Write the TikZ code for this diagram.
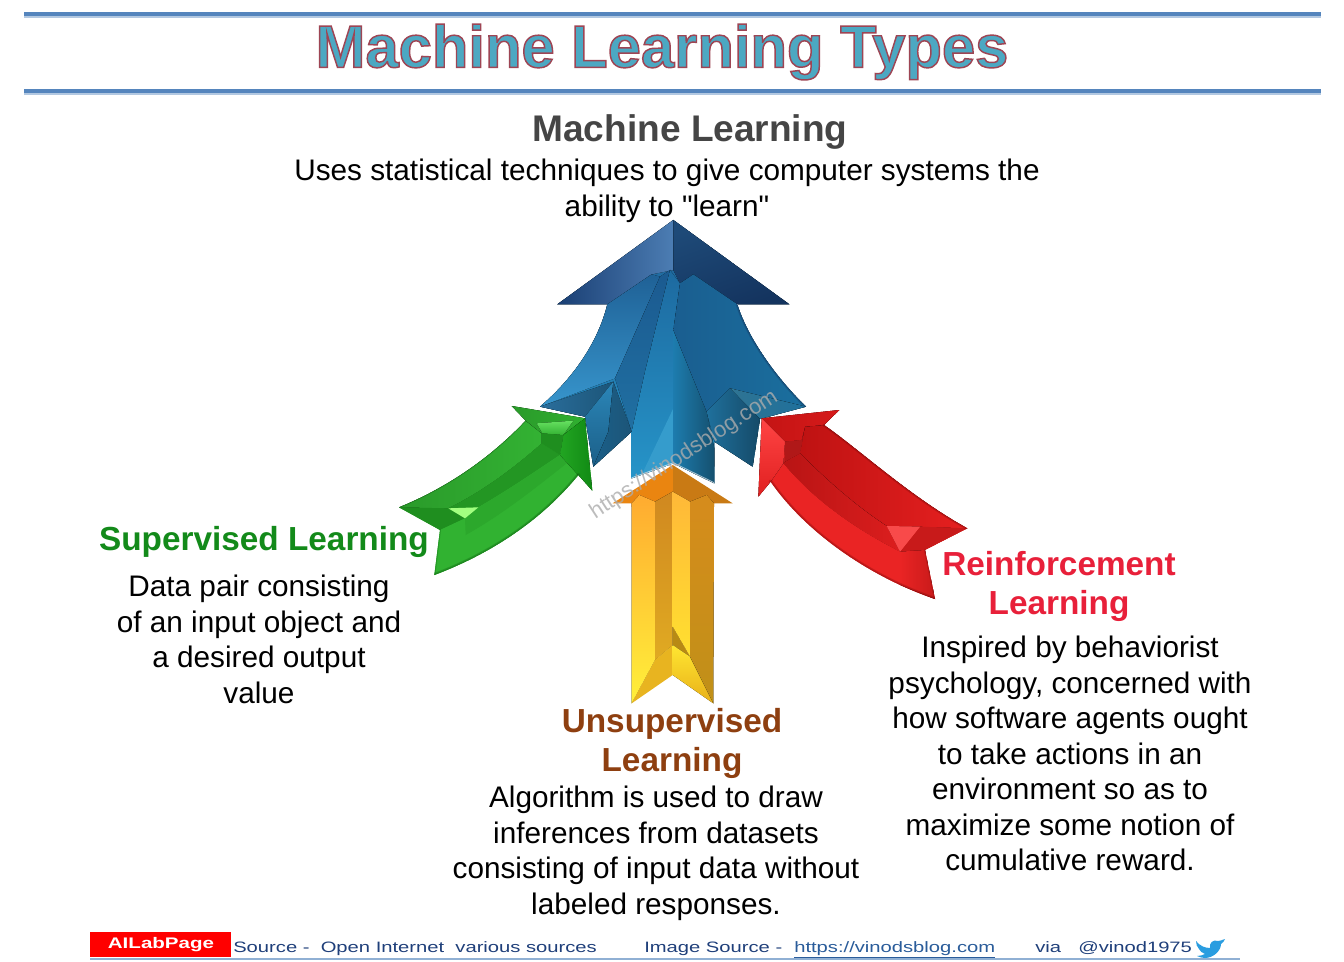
\documentclass[tikz,border=0pt]{standalone}
\usepackage{fontspec}
\setmainfont{Liberation Sans}
\newfontfamily\plainq{Liberation Sans}
\newfontfamily\footfont[FakeStretch=1.34]{Liberation Sans}
\usetikzlibrary{calc}
\definecolor{rulebl}{HTML}{5585BD}
\definecolor{sgreen}{HTML}{138A1A}
\definecolor{ubrown}{HTML}{8E3F10}
\definecolor{rred}{HTML}{E8203A}
\definecolor{mlgray}{HTML}{454545}
\definecolor{linkb}{HTML}{2A5C9A}
\definecolor{footb}{HTML}{1F3F7A}
\definecolor{tw}{HTML}{2A9DE0}
\newcommand{\hc}[2]{\definecolor{#1}{HTML}{#2}}
% blue
\hc{ba}{1A3F74}\hc{bb}{4C7DB3}\hc{bc}{14345F}\hc{bd}{1E4A78}
\hc{be}{1F6196}\hc{bf}{3795CC}\hc{bg}{2A6E9C}\hc{bh}{1C5578}
\hc{bi}{2B86B8}\hc{bj}{1B5F88}\hc{bk}{1B5A90}\hc{bl}{2070A2}
\hc{bm}{1D6AA0}\hc{bn}{2694C8}\hc{bo}{1D7CAE}\hc{bp}{15506F}
\hc{bq}{1A5E90}\hc{br}{1A6F9E}\hc{bs}{2F7493}\hc{bt}{1F709C}\hc{bu}{154A68}
% green
\hc{ga}{2AA62A}\hc{gb}{2A9A2A}\hc{gc}{33B233}\hc{gd}{1F8E1F}\hc{ge}{239623}
\hc{gf}{31B231}\hc{gg}{2CA82C}\hc{gh}{30B030}\hc{gi}{66E060}\hc{gj}{22A522}
\hc{gk}{118A14}\hc{gl}{A2FF80}\hc{gm}{0B5A0E}
% red
\hc{ra}{E02020}\hc{rb}{C41414}\hc{rc}{D61A1A}\hc{rd}{FF4444}\hc{re}{E02020}
\hc{rf}{B01818}\hc{rg}{BE1212}\hc{rh}{E62020}\hc{ri}{B81414}\hc{rj}{DC1E1E}
\hc{rk}{EA2424}\hc{rl}{F84A4A}\hc{rm}{C81A1A}\hc{rn}{7E0A0A}
% orange
\hc{oa}{EA8510}\hc{ob}{C97A14}\hc{oc}{FFAB30}\hc{od}{FFF03A}\hc{oe}{D08820}
\hc{of}{E0AA22}\hc{og}{E8B420}\hc{oh}{FFB838}\hc{oi}{FFE030}\hc{oj}{B88A14}
\hc{ok}{FFE632}\hc{ol}{E8B018}\hc{om}{D68C1C}\hc{on}{C09018}
\newcommand{\titletext}[1]{\special{pdf:bcolor [0.30 0.66 0.76] [0.62 0.27 0.33]}\special{pdf:code 2 Tr 1.1 w}#1\special{pdf:code 0 Tr}\special{pdf:ecolor}}
\tikzset{
  titlerule/.style={draw=rulebl,line width=3pt},
  ruleglow/.style={draw=rulebl!45!white,line width=1.2pt},
  bodytext/.style={align=center,text=black,font=\fontsize{22.3}{26.6}\selectfont,anchor=north,inner sep=0pt},
  headtext/.style={align=center,font=\bfseries\fontsize{25}{29.6}\selectfont,anchor=north,inner sep=0pt},
  foottext/.style={anchor=base west,inner sep=0pt,font=\footfont\fontsize{11.3}{13}\selectfont,text=footb},
  rim/.style={line width=#1,opacity=.28,line cap=round},
  bz/.style={shift={(530,215)},x=.25pt,y=-.25pt},
  gz/.style={shift={(395,400)},x=.25pt,y=-.25pt},
  rz/.style={shift={(750,400)},x=.25pt,y=-.25pt},
  oz/.style={shift={(610,460)},x=.25pt,y=-.25pt},
}
\newcommand{\bluepath}{(430,15) -- (778,268) -- (622,268) .. controls (650,360) and (730,480) .. (828,575) -- (690,612) -- (668,755) -- (553,680) -- (553,805) -- (430,745) -- (305,790) -- (305,650) -- (190,755) -- (165,605) -- (30,575) .. controls (130,490) and (205,380) .. (232,268) -- (82,268) -- cycle}
\newcommand{\greenpath}{(350,18) -- (570,55) -- (592,272) -- (550,225) .. controls (440,360) and (290,460) .. (118,525) -- (135,390) -- (12,322) .. controls (160,262) and (290,170) .. (392,62) -- cycle}
\newcommand{\redpath}{(35,55) -- (268,30) -- (222,75) .. controls (330,150) and (480,290) .. (652,385) -- (525,450) -- (555,597) .. controls (360,530) and (170,400) .. (62,245) -- (25,290) -- cycle}
\newcommand{\orangepath}{(188,15) -- (368,130) -- (312,130) -- (310,730) -- (188,645) -- (65,730) -- (65,130) -- (8,130) -- cycle}
\begin{document}
\begin{tikzpicture}[x=0.75pt,y=-0.75pt]
\useasboundingbox (0,0) rectangle (1344,962);
\fill[white] (0,0) rectangle (1344,962);
% title
\coordinate (ruleTopL) at (24,14); \coordinate (ruleTopR) at (1321,14);
\coordinate (ruleBotL) at (24,91); \coordinate (ruleBotR) at (1321,91);
\coordinate (glowTopL) at (24,17); \coordinate (glowTopR) at (1321,17);
\coordinate (glowBotL) at (24,94); \coordinate (glowBotR) at (1321,94);
\draw[ruleglow] (glowTopL) -- (glowTopR);
\draw[ruleglow] (glowBotL) -- (glowBotR);
\draw[titlerule] (ruleTopL) -- (ruleTopR);
\draw[titlerule] (ruleBotL) -- (ruleBotR);
\node[inner sep=0pt,font=\bfseries\fontsize{44.8}{50}\selectfont] (title) at (662,52) {\titletext{Machine Learning Types}};
% heading
\node[anchor=base,inner sep=0pt,text=mlgray,font=\bfseries\fontsize{27.8}{30}\selectfont] (ml) at (690,142) {Machine Learning};
\node[bodytext] (mltext) at (667,159) {Uses statistical techniques to give computer systems the\\ability to {\plainq"}learn{\plainq"}};

% ---------- blue arrow
\begin{scope}[bz]
\clip \bluepath;
\fill[top color=be,bottom color=bn] (0,0) rectangle (870,840);
% head
\fill[left color=ba,right color=bb] (82,268) -- (430,15) -- (430,165) -- (365,178) -- (232,268) -- cycle;
\fill[left color=bc,right color=bd,shading angle=200] (430,15) -- (778,268) -- (622,268) -- (490,178) -- (450,205) -- (430,165) -- cycle;
% left band
\fill[top color=be,bottom color=bf] (232,268) -- (365,178) -- (390,185) -- (255,490) -- (30,575) .. controls (130,490) and (205,380) .. (232,268) -- cycle;
\fill[left color=bg,right color=bh] (30,575) -- (250,500) -- (205,575) -- (165,605) -- cycle;
\fill[top color=bi,bottom color=bj] (165,605) -- (250,500) -- (235,650) -- (190,755) -- cycle;
\fill[left color=bj,right color=bh] (250,500) -- (305,650) -- (190,755) -- (235,650) -- cycle;
% dark strip
\fill[top color=bk,bottom color=bl] (390,185) -- (420,165) -- (345,470) -- (305,650) -- (255,490) -- cycle;
% centre left
\fill[top color=bm,bottom color=bn] (420,165) -- (450,205) -- (430,345) -- (430,790) -- (305,790) -- (305,650) -- (345,470) -- cycle;
\fill[bn!93!white] (430,580) -- (430,760) -- (330,790) -- cycle;
% centre right
\fill[left color=bo,right color=bp] (430,345) -- (530,590) -- (553,700) -- (553,805) -- (430,790) -- cycle;
% right big band
\fill[left color=bq,right color=br] (450,205) -- (490,178) -- (622,268) .. controls (650,360) and (730,480) .. (828,575) -- (600,520) -- (530,590) -- (430,345) -- cycle;
\fill[left color=bs,right color=bt] (828,575) -- (600,520) -- (665,590) -- (690,612) -- cycle;
\fill[left color=bt,right color=bu] (530,590) -- (600,520) -- (690,612) -- (668,755) -- (553,680) -- cycle;
% rims
\draw[bc,rim=2.5pt] (622,268) .. controls (650,360) and (730,480) .. (828,575);
\draw[bc,rim=1.3pt] (622,268) .. controls (650,360) and (730,480) .. (828,575);
\draw[white,opacity=.55,line width=.8pt] (82,268) -- (232,268);
\draw[white,opacity=.55,line width=.8pt] (622,268) -- (778,268);
\draw[white,opacity=.6,line width=1.4pt] (305,790) -- (430,745) -- (553,805);
\end{scope}
% ---------- green arrow
\begin{scope}[gz]
\clip \greenpath;
\fill[ga] (0,0) rectangle (615,540);
\fill[left color=gb,right color=gc] (12,322) .. controls (160,262) and (290,170) .. (392,62) -- (440,100) -- (440,130) .. controls (350,210) and (260,275) .. (160,325) -- cycle;
\fill[gd] (12,322) -- (160,325) -- (210,355) -- (135,390) -- cycle;
\fill[ge] (160,325) .. controls (260,275) and (350,210) .. (440,130) -- (495,165) .. controls (420,215) and (340,270) .. (250,322) -- cycle;
\fill[gf] (250,322) .. controls (340,270) and (420,215) .. (495,165) -- (550,225) .. controls (440,360) and (290,460) .. (118,525) -- (135,390) -- (210,355) -- cycle;
\fill[gg] (250,322) .. controls (340,270) and (420,215) .. (495,165) -- (515,190) .. controls (420,265) and (320,345) .. (212,405) -- (210,355) -- cycle;
% head
\fill[left color=gb,right color=gh] (350,18) -- (570,55) -- (505,105) -- (440,100) -- (392,62) -- cycle;
\fill[top color=gi,bottom color=gc] (425,70) -- (535,62) -- (505,105) -- (442,100) -- cycle;
\fill[left color=gj,right color=gk] (570,55) -- (592,272) -- (495,165) -- (505,105) -- cycle;
\fill[gd] (440,100) -- (505,105) -- (495,165) -- (440,130) -- cycle;
\fill[gl] (160,325) -- (250,322) -- (210,355) -- cycle;
% rims
\draw[gm,rim=3pt] (550,225) .. controls (440,360) and (290,460) .. (118,525);
\draw[gm,rim=1.5pt] (550,225) .. controls (440,360) and (290,460) .. (118,525);
\draw[gm,rim=1pt] (12,322) .. controls (160,262) and (290,170) .. (392,62);
\draw[gm,rim=1.5pt] (135,390) -- (118,525);
\end{scope}
% ---------- red arrow
\begin{scope}[rz]
\clip \redpath;
\fill[ra] (0,0) rectangle (675,615);
\fill[left color=rg,right color=rh] (222,75) .. controls (330,150) and (480,290) .. (652,385) -- (510,380) -- (410,378) .. controls (320,320) and (230,240) .. (150,160) -- (165,80) -- cycle;
\fill[left color=ri,right color=rj] (150,160) .. controls (230,240) and (320,320) .. (410,378) -- (450,455) .. controls (320,390) and (190,300) .. (100,190) -- (105,185) -- cycle;
\fill[rk] (100,190) .. controls (190,300) and (320,390) .. (450,455) -- (525,450) -- (555,597) .. controls (360,530) and (170,400) .. (62,245) -- cycle;
\fill[rm] (450,455) -- (510,380) -- (652,385) -- (525,450) -- cycle;
\fill[left color=rk,right color=rm] (450,455) -- (525,450) -- (555,597) -- (450,555) -- cycle;
% head
\fill[left color=rb,right color=rc] (35,55) -- (268,30) -- (222,75) -- (165,80) -- (155,120) -- (105,125) -- cycle;
\fill[top color=rd,bottom color=re] (35,55) -- (105,125) -- (100,190) -- (62,245) -- (25,290) -- cycle;
\fill[rf] (105,125) -- (158,120) -- (150,160) -- (103,185) -- cycle;
\fill[rl] (410,378) -- (510,380) -- (450,455) -- cycle;
% rims
\draw[rn,rim=3pt] (62,245) .. controls (170,400) and (360,530) .. (555,597);
\draw[rn,rim=1.5pt] (62,245) .. controls (170,400) and (360,530) .. (555,597);
\draw[rn,rim=2.4pt] (222,75) .. controls (330,150) and (480,290) .. (652,385);
\draw[rn,rim=1.2pt] (222,75) .. controls (330,150) and (480,290) .. (652,385);
\draw[rn,rim=1.6pt] (525,450) -- (555,597);
\end{scope}
% ---------- orange arrow
\begin{scope}[oz]
\clip \orangepath;
\fill[oa] (0,0) -- (188,0) -- (188,140) -- (0,140) -- cycle;
\fill[ob] (188,0) -- (380,0) -- (380,140) -- (188,140) -- cycle;
\fill[top color=oc,bottom color=od] (65,130) -- (88,105) -- (135,125) -- (135,600) -- (65,730) -- cycle;
\fill[top color=oe,bottom color=of] (135,125) -- (188,95) -- (188,555) -- (135,600) -- cycle;
\fill[og] (65,730) -- (135,600) -- (188,555) -- (188,645) -- cycle;
\fill[top color=oh,bottom color=oi] (188,95) -- (240,125) -- (240,590) -- (188,500) -- cycle;
\fill[oj] (188,500) -- (240,590) -- (188,555) -- cycle;
\fill[top color=ok,bottom color=ol] (188,555) -- (240,590) -- (310,730) -- (188,645) -- cycle;
\fill[top color=om,bottom color=on] (240,125) -- (290,105) -- (312,130) -- (310,730) -- (240,590) -- cycle;
\end{scope}
% watermark
\node[rotate=33,inner sep=0pt,text=gray!65!white,opacity=.8,font=\fontsize{16.5}{20}\selectfont] (wm) at (684,455) {https://vinodsblog.com};
% Supervised
\node[headtext,text=sgreen] (sup) at (264,526) {Supervised Learning};
\node[bodytext] (suptext) at (259,575) {Data pair consisting\\of an input object and\\a desired output\\value};
% Unsupervised
\node[headtext,text=ubrown] (uns) at (672,708) {Unsupervised\\Learning};
\node[bodytext] (unstext) at (656,786) {Algorithm is used to draw\\inferences from datasets\\consisting of input data without\\labeled responses.};
% Reinforcement
\node[headtext,text=rred] (rei) at (1059,551) {Reinforcement\\Learning};
\node[bodytext] (reitext) at (1070,636) {Inspired by behaviorist\\psychology, concerned with\\how software agents ought\\to take actions in an\\environment so as to\\maximize some notion of\\cumulative reward.};
% footer
\coordinate (footL) at (90,959); \coordinate (footR) at (1240,959);
\draw[draw=rulebl!65!white,line width=1.1pt] (footL) -- (footR);
\fill[red] (90,932) rectangle (231,957);
\node[anchor=center,inner sep=0pt,text=white,font=\footfont\bfseries\fontsize{11.5}{13}\selectfont] (ail) at (161,945) {AILabPage};
\node[foottext] (src) at (233,952) {Source -\ \ Open Internet\ \ various sources};
\node[foottext] (img) at (644,952) {Image Source -};
\node[foottext,text=linkb] (lnk) at (794,952) {\underline{https://vinodsblog.com}};
\node[foottext] (via) at (1035,952) {via};
\node[foottext] (hnd) at (1078,952) {@vinod1975};
\fill[tw] (1196,941) .. controls (1200,946) and (1205,948) .. (1210,948) .. controls (1209,943) and (1213,939) .. (1218,941) .. controls (1220,941) and (1222,940) .. (1225,939) .. controls (1224,941) and (1223,943) .. (1221,944) .. controls (1221,951) and (1213,958) .. (1205,958) .. controls (1202,958) and (1199,957) .. (1197,956) .. controls (1200,956) and (1203,955) .. (1205,954) .. controls (1202,953) and (1200,951) .. (1199,949) .. controls (1197,947) and (1196,944) .. (1196,941) -- cycle;
\end{tikzpicture}
\end{document}
